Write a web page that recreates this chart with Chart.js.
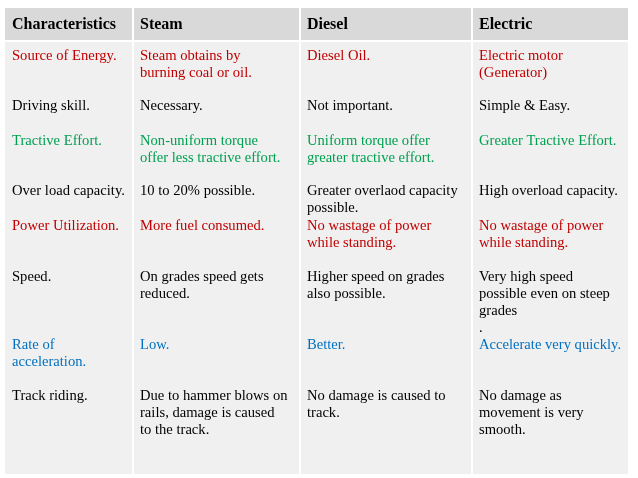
<!DOCTYPE html>
<html><head><meta charset="utf-8">
<script src="https://cdn.jsdelivr.net/npm/chart.js@4"></script>
<style>html,body{margin:0;padding:0;background:#fff}#c{display:block}</style>
</head><body>
<div style="width:638px;height:478px"><canvas id="c"></canvas></div>
<script>
const headers = ["Characteristics","Steam","Diesel","Electric"];
const col0 = ["Source of Energy.","Driving skill.","Tractive Effort.","Over load capacity.","Power Utilization.","Speed.","Rate of\nacceleration.","Track riding."];
const col1 = ["Steam obtains by\nburning coal or oil.","Necessary.","Non-uniform torque\noffer less tractive effort.","10 to 20% possible.","More fuel consumed.","On grades speed gets\nreduced.","Low.","Due to hammer blows on\nrails, damage is caused\nto the track."];
const col2 = ["Diesel Oil.","Not important.","Uniform torque offer\ngreater tractive effort.","Greater overlaod capacity\npossible.","No wastage of power\nwhile standing.","Higher speed on grades\nalso possible.","Better.","No damage is caused to\ntrack."];
const col3 = ["Electric motor\n(Generator)","Simple & Easy.","Greater Tractive Effort.","High overload capacity.","No wastage of power\nwhile standing.","Very high speed\npossible even on steep\ngrades\n.","Accelerate very quickly.","No damage as\nmovement is very\nsmooth."];
const rowColors = ["#c00000","#000000","#00a050","#000000","#c00000","#000000","#0070c0","#000000"];

// layout (not data)
const colX = [5,133,300,472,628];
const headerTop = 8, headerBottom = 40, tableBottom = 474;
const rowTop = [47,97,132,182,217,268,336,387];
const lineH = 17;

const tablePlugin = {
  id:'table',
  afterDraw(chart){
    const ctx = chart.ctx;
    ctx.save();
    ctx.fillStyle = '#d9d9d9';
    ctx.fillRect(colX[0],headerTop,colX[4]-colX[0],headerBottom-headerTop);
    ctx.fillStyle = '#f0f0f0';
    ctx.fillRect(colX[0],headerBottom+2,colX[4]-colX[0],tableBottom-headerBottom-2);
    ctx.fillStyle = '#ffffff';
    for (let i=1;i<4;i++) ctx.fillRect(colX[i]-1,headerTop,2,tableBottom-headerTop);
    ctx.textBaseline='middle';
    ctx.font = 'bold 16px "Liberation Serif", serif';
    ctx.fillStyle='#000';
    headers.forEach((h,i)=>ctx.fillText(h,colX[i]+7,(headerTop+headerBottom)/2+1));
    ctx.font = '14.6px "Liberation Serif", serif';
    const cols=[col0,col1,col2,col3];
    cols.forEach((col,ci)=>col.forEach((txt,ri)=>{
      ctx.fillStyle=rowColors[ri];
      txt.split('\n').forEach((ln,li)=>ctx.fillText(ln,colX[ci]+7,rowTop[ri]+9+li*lineH));
    }));
    ctx.restore();
  }
};
new Chart(document.getElementById('c'),{
  type:'bar',
  data:{labels:headers,datasets:[{data:[],label:'t'}]},
  options:{responsive:true,maintainAspectRatio:false,animation:false,
    plugins:{legend:{display:false},tooltip:{enabled:false}},
    scales:{x:{display:false},y:{display:false}}},
  plugins:[tablePlugin]
});
</script>
</body></html>
